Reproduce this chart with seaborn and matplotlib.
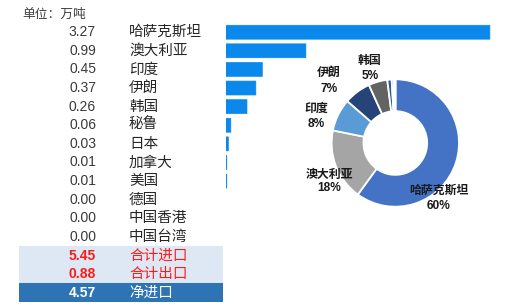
import matplotlib
matplotlib.use("Agg")
import matplotlib.pyplot as plt
import seaborn as sns
import pandas as pd
import numpy as np

sns.set_style("white")
plt.rcParams['font.family'] = ['Liberation Sans', 'Noto Sans CJK SC', 'DejaVu Sans']

# ---- data ----
countries = ["哈萨克斯坦", "澳大利亚", "印度", "伊朗", "韩国", "秘鲁", "日本",
             "加拿大", "美国", "德国", "中国香港", "中国台湾"]
values = [3.27, 0.99, 0.45, 0.37, 0.26, 0.06, 0.03, 0.01, 0.01, 0.00, 0.00, 0.00]
total_labels = ["合计进口", "合计出口", "净进口"]
total_values = [5.45, 0.88, 4.57]
pie_labels = ["哈萨克斯坦", "澳大利亚", "印度", "伊朗", "韩国"]
unit_text = "单位：万吨"

W, H = 505, 308
fig = plt.figure(figsize=(W / 100, H / 100), dpi=100)

row0 = 32.2
rowh = 18.61
nrows = len(countries) + len(total_labels)
top_px = row0 - rowh / 2
bot_px = row0 + rowh * (nrows - 0.5)
ax_bottom = 1 - bot_px / H
ax_height = (bot_px - top_px) / H

# table axes (full width, pixel x-units)
tab = fig.add_axes([0, ax_bottom, 1, ax_height])
tab.set_xlim(0, W)
tab.set_ylim(nrows - 0.5, -0.5)
tab.axis("off")

n = len(countries)
# backgrounds
tab.fill_between([19, 223], n - 0.5, n + 1.5, color="#dde8f4", lw=0, zorder=0)
tab.fill_between([19, 223], n + 1.5, n + 2.5, color="#2e74b5", lw=0, zorder=0)

num_color = "#3a3a3a"
lab_color = "#262626"
for i, (c, v) in enumerate(zip(countries, values)):
    tab.text(96, i, f"{v:.2f}", ha="right", va="center", fontsize=10, color=num_color)
    tab.text(129, i, c, ha="left", va="center", fontsize=10.5, color=lab_color)

tcolors = ["#ff1a1a", "#ff1a1a", "white"]
for j, (c, v) in enumerate(zip(total_labels, total_values)):
    i = n + j
    tab.text(96, i, f"{v:.2f}", ha="right", va="center", fontsize=10,
             color=tcolors[j], fontweight="bold")
    tab.text(129, i, c, ha="left", va="center", fontsize=10.5, color=tcolors[j])

fig.text(22 / W, 1 - 15 / H, unit_text, ha="left", va="center", fontsize=9.2,
         color="#404040", style="italic")

# bar axes
bar_left = 226
scale = 80.7  # px per unit
bar_color = "#0a88eb"
bar = fig.add_axes([bar_left / W, ax_bottom, (W - bar_left) / W, ax_height])
df = pd.DataFrame({"country": countries, "value": values})
sns.barplot(data=df, x="value", y="country", order=countries, color=bar_color,
            saturation=1, width=0.75, ax=bar)
for p, v in zip(bar.patches, values):
    p.set_snap(False)
    if v > 0:
        p.set_edgecolor(bar_color)
        p.set_linewidth(0.45)
bar.set_xlim(0, (W - bar_left) / scale)
bar.set_ylim(nrows - 0.5, -0.5)
bar.axis("off")
bar.patch.set_alpha(0)

# donut
cx, cy, R = 395.3, 143.0, 63.7
side = 3 * R
pax = fig.add_axes([(cx - side / 2) / W, 1 - (cy + side / 2) / H, side / W, side / H])
pie_colors = ["#4472c4", "#a5a5a5", "#5b9bd5", "#264478", "#636363", "#255e91",
              "#7cafdd", "#698ed0", "#b7b7b7", "#333f50", "#9dc3e6", "#8faadc"]
pax.pie(values, colors=pie_colors, startangle=90, counterclock=False, radius=1,
        wedgeprops=dict(width=0.5, edgecolor="white", linewidth=1.3))
pax.set_xlim(-1.5, 1.5)
pax.set_ylim(-1.5, 1.5)
pax.set_aspect("equal")
pax.axis("off")

tot = sum(values)
label_pos = [(439, 191, 206), (329, 175, 188), (316.7, 109.3, 124),
             (329, 73.3, 88.7), (370, 60.7, 76)]
for name, v, (x, y1, y2) in zip(pie_labels, values, label_pos):
    fig.text(x / W, 1 - y1 / H, name, ha="center", va="center", fontsize=8.6,
             fontweight="bold", color="#1a1a1a")
    fig.text(x / W, 1 - y2 / H, f"{v / tot * 100:.0f}%", ha="center", va="center",
             fontsize=8.6, fontweight="bold", color="#1a1a1a")

fig.savefig("out.png", dpi=100)
